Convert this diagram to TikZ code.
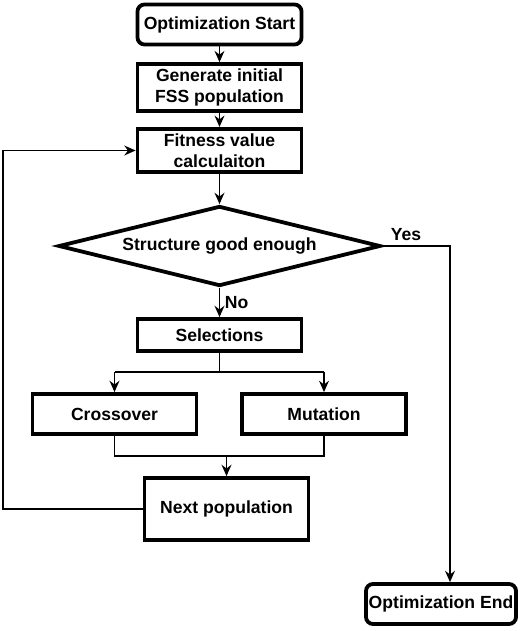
\documentclass[tikz,border=0pt]{standalone}
\usepackage{fontspec}
\setmainfont{Liberation Sans}
\usepackage{tikz}
\usetikzlibrary{arrows.meta}
\usetikzlibrary{shapes,arrows}
\tikzstyle{arrow} = [line width=1.1pt,-{Stealth[length=8pt,width=7pt]}]
\tikzstyle{line} = [line width=1.1pt]
\tikzstyle{startstop} = [rectangle, rounded corners=5pt, draw, line width=2.7pt, minimum width=4.1cm, minimum height=1.0cm, align=center, font=\fontsize{12.5}{15}\selectfont\bfseries]
\tikzstyle{process} = [rectangle, draw, line width=2.7pt, minimum width=4.1cm, minimum height=1.0cm, align=center, font=\fontsize{12.5}{15}\selectfont\bfseries]
\tikzstyle{decision} = [diamond, draw, line width=2.7pt, minimum width=8.05cm, minimum height=2.0cm, inner sep=0pt, aspect=4, font=\fontsize{12.5}{15}\selectfont\bfseries]
\tikzstyle{label} = [font=\fontsize{12.5}{15}\selectfont\bfseries]

\begin{document}
\begin{tikzpicture}[x=0.025cm, y=-0.025cm]
            \useasboundingbox (0,0) rectangle (520,631);

            \node[startstop] (start) at (219.5,24.5) {Optimization Start};
            \node[process] (init) at (219.5,87.5) {Generate initial\\FSS population};
            \node[process] (fit) at (219.5,150.5) {Fitness value\\calculaiton};
            \node[decision] (dec) at (219.5,246) {Structure good enough};
            \node[process, minimum height=0.8cm] (sel) at (219.5,335) {Selections};
            \node[process] (cross) at (114.5,414) {Crossover};
            \node[process] (mut) at (324,414) {Mutation};
            \node[process, minimum height=1.55cm] (next) at (226.5,509) {Next population};
            \node[startstop, inner sep=1pt, minimum width=3.75cm] (stop) at (441,604) {Optimization End};

            \coordinate (split) at (219.5,372);
            \coordinate (merge) at (226.5,456);
            \coordinate (yes) at (450,246);
            \coordinate (back) at (3,509);

            \draw[arrow] (start) -- (init);
            \draw[arrow] (init) -- (fit);
            \draw[arrow] (fit) -- (dec);
            \draw[arrow] (dec) -- node[right, label] {No} (sel);

            \draw[line] (sel) -- (split);
            \draw[line] (cross |- split) -- (mut |- split);
            \draw[arrow] (cross |- split) -- (cross);
            \draw[arrow] (mut |- split) -- (mut);

            \draw[line] (cross.south) |- (merge) -| (mut.south);
            \draw[arrow] (merge) -- (next);

            \draw[arrow] (next.west) -- (back) |- (fit.west);
            \draw[arrow] (dec.east) -- node[above, pos=0.35, label] {Yes} (yes) -- (yes |- stop.north);
\end{tikzpicture}
\end{document}
